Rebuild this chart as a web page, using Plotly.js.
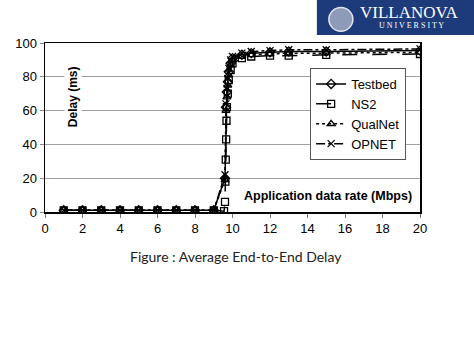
<!DOCTYPE html>
<html><head><meta charset="utf-8">
<script src="https://cdn.plot.ly/plotly-3.0.1.min.js"></script>
<style>html,body{margin:0;padding:0;background:#fff;}#chart{width:474px;height:355px;}</style>
</head><body><div id="chart"></div>
<script>
// Data
var testbedX = [1,2,3,4,5,6,7,8,9,9.6,9.65,9.7,9.75,9.8,9.9,10,10.5,11,12,13,15,20];
var testbedY = [1,1,1,1,1,1,1,1,1,20,62,71,77,83,88,91,93,94,94.5,95,95,95.5];
var ns2X = [1,2,3,4,5,6,7,8,9,9.55,9.6,9.62,9.64,9.66,9.68,9.7,9.75,9.8,9.9,10,10.5,11,12,13,15,20];
var ns2Y = [1,1,1,1,1,1,1,1,1,0.5,6,18,31,43,54,62,70,78,84,88,91,92,92.5,92.5,93,93.5];
var qualnetX = [1,2,3,4,5,6,7,8,9,9.6,9.65,9.7,9.75,9.8,9.9,10,10.5,11,12,13,15,20];
var qualnetY = [1,1,1,1,1,1,1,1,1,19,60,68,75,81,87,90,92,93,93.5,94,94,94.5];
var opnetX = [1,2,3,4,5,6,7,8,9,9.6,9.65,9.7,9.75,9.8,9.9,10,10.5,11,12,13,15,20];
var opnetY = [1,1,1,1,1,1,1,1,1,22,64,73,79,85,90,92,94,95,95.5,96,96,96.5];
var xTicks = [0,2,4,6,8,10,12,14,16,18,20];
var yTicks = [0,20,40,60,80,100];

function tr(name, x, y, dash, sym) {
  return {type:'scatter', mode:'lines+markers', name:name, x:x, y:y,
    line:{color:'#000', width:1.5, dash:dash},
    marker:{symbol:sym, size:7, color:'#000', line:{color:'#000', width:1.3}}};
}
var data = [
  tr('Testbed', testbedX, testbedY, 'solid', 'diamond-open'),
  tr('NS2', ns2X, ns2Y, 'longdash', 'square-open'),
  tr('QualNet', qualnetX, qualnetY, 'dot', 'triangle-up-open'),
  tr('OPNET', opnetX, opnetY, 'dashdot', 'x-thin-open')
];
var layout = {
  width:474, height:355,
  margin:{l:45, r:54, t:43, b:143},
  paper_bgcolor:'#fff', plot_bgcolor:'#fff',
  font:{family:'Liberation Sans, Arial, sans-serif', size:13, color:'#000'},
  showlegend:true,
  legend:{x:0.707, y:0.852, xanchor:'left', yanchor:'top', bgcolor:'#fff',
    bordercolor:'#555', borderwidth:1, font:{size:13}, tracegroupgap:0},
  xaxis:{range:[0,20], tickvals:xTicks, ticktext:xTicks.map(String), showgrid:false,
    zeroline:false, showline:true, linecolor:'#000', linewidth:1.5, mirror:true,
    ticks:'outside', ticklen:4, tickcolor:'#777'},
  yaxis:{range:[0,100], tickvals:yTicks, ticktext:yTicks.map(String), showgrid:true,
    gridcolor:'#a0a0a0', gridwidth:1, zeroline:false, showline:true, linecolor:'#000',
    linewidth:1.5, mirror:true, ticks:'outside', ticklen:4, tickcolor:'#888'},
  shapes:[
    {type:'rect', xref:'paper', yref:'paper', x0:0.725, x1:1.15, y0:1.047, y1:1.26,
      fillcolor:'#1d3b7b', line:{width:0}, layer:'above'},
    {type:'circle', xref:'paper', yref:'paper', x0:0.757, x1:0.821, y0:1.07, y1:1.21,
      fillcolor:'#8e9bb8', line:{color:'#e0e4ee', width:1.5}, layer:'above'}
  ],
  annotations:[
    {x:1.5, y:68, xref:'x', yref:'y', text:'<b>Delay (ms)</b>', textangle:-90,
      showarrow:false, bgcolor:'#fff', font:{size:12}, xanchor:'center', yanchor:'middle'},
    {x:15.1, y:9.5, xref:'x', yref:'y', text:'<b>Application data rate (Mbps)</b>',
      showarrow:false, font:{size:12.5}, xanchor:'center', yanchor:'middle'},
    {x:0.51, y:-0.266, xref:'paper', yref:'paper', text:'Figure : Average End-to-End Delay',
      showarrow:false, xanchor:'center', yanchor:'middle',
      font:{family:'Lato, sans-serif', size:14, color:'#222'}},
    {x:0.972, y:1.18, xref:'paper', yref:'paper', text:'VILLANOVA', showarrow:false,
      xanchor:'center', yanchor:'middle',
      font:{family:'Liberation Serif, serif', size:17, color:'#fff'}},
    {x:0.978, y:1.105, xref:'paper', yref:'paper', text:'U N I V E R S I T Y', showarrow:false,
      xanchor:'center', yanchor:'middle',
      font:{family:'Liberation Serif, serif', size:8, color:'#fff'}}
  ]
};
Plotly.newPlot('chart', data, layout, {displayModeBar:false, staticPlot:true});
</script></body></html>
